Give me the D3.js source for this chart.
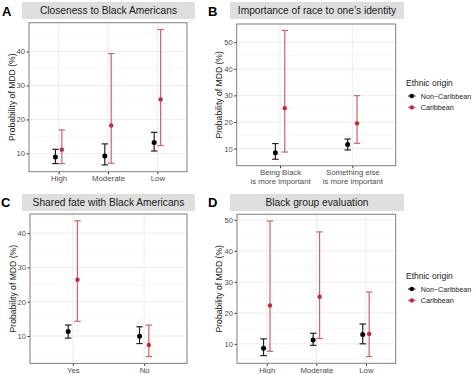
<!DOCTYPE html>
<html>
<head>
<meta charset="utf-8">
<script src="https://cdn.jsdelivr.net/npm/d3@7"></script>
<style>
  body { margin: 0; background: #fff; }
  svg { display: block; font-family: "Liberation Sans", Arial, sans-serif; }
</style>
</head>
<body>
<svg id="chart" width="474" height="374"></svg>
<script>
// values (probability of MDD, %)
const groups = ["Non\u2212Caribbean", "Caribbean"];

// A - closeness to Black Americans
const catsA = ["High", "Moderate", "Low"];
const nonA = [8.9, 9.2, 13.2], nonA_lo = [7.0, 6.6, 10.7], nonA_hi = [11.2, 12.8, 16.2];
const carA = [11.1, 18.2, 25.9], carA_lo = [7.0, 7.1, 12.3], carA_hi = [16.9, 39.4, 46.5];
const ticksA = [10, 20, 30, 40];

// B - importance of race
const catsB = [["Being Black", "is more important"], ["Something else", "is more important"]];
const nonB = [8.4, 11.5], nonB_lo = [6.0, 9.5], nonB_hi = [11.9, 13.6];
const carB = [25.2, 19.5], carB_lo = [8.7, 12.0], carB_hi = [54.4, 29.9];
const ticksB = [10, 20, 30, 40, 50];

// C - shared fate
const catsC = ["Yes", "No"];
const nonC = [11.3, 9.9], nonC_lo = [9.4, 7.8], nonC_hi = [13.2, 12.7];
const carC = [26.4, 7.4], carC_lo = [14.3, 4.0], carC_hi = [43.6, 13.2];
const ticksC = [10, 20, 30, 40];

// D - black group evaluation
const catsD = ["High", "Moderate", "Low"];
const nonD = [8.6, 11.2, 13.0], nonD_lo = [6.2, 9.5, 10.0], nonD_hi = [11.6, 13.4, 16.4];
const carD = [22.4, 25.2, 13.2], carD_lo = [7.6, 11.7, 5.9], carD_hi = [49.6, 46.1, 26.7];
const ticksD = [10, 20, 30, 40, 50];

const colors = { "Non\u2212Caribbean": "#000000", "Caribbean": "#c8243a" };
const barColors = { "Non\u2212Caribbean": "#222222", "Caribbean": "#d4606a" };

const toRows = (cats, est, lo, hi, grp) =>
  cats.map((c, i) => ({ key: i, grp: grp, est: est[i], lo: lo[i], hi: hi[i] }));

const panels = [
  { letter: "A", title: "Closeness to Black Americans", cats: catsA, ticks: ticksA,
    rows: toRows(catsA, nonA, nonA_lo, nonA_hi, groups[0]).concat(toRows(catsA, carA, carA_lo, carA_hi, groups[1])),
    box: [29, 22.7, 187, 171.7], strip: [22, 2, 195, 19], lx: 2, ly: 16, ytx: 12.3, legend: null },
  { letter: "B", title: "Importance of race to one\u2019s identity", cats: catsB, ticks: ticksB,
    rows: toRows(catsB, nonB, nonB_lo, nonB_hi, groups[0]).concat(toRows(catsB, carB, carB_lo, carB_hi, groups[1])),
    box: [236.7, 24, 395.7, 165.7], strip: [230, 2, 404, 19], lx: 208, ly: 16, ytx: 218.5, legend: 86 },
  { letter: "C", title: "Shared fate with Black Americans", cats: catsC, ticks: ticksC,
    rows: toRows(catsC, nonC, nonC_lo, nonC_hi, groups[0]).concat(toRows(catsC, carC, carC_lo, carC_hi, groups[1])),
    box: [30, 214, 187, 363.4], strip: [22, 194, 195, 211], lx: 1, ly: 207, ytx: 12.5, legend: null },
  { letter: "D", title: "Black group evaluation", cats: catsD, ticks: ticksD,
    rows: toRows(catsD, nonD, nonD_lo, nonD_hi, groups[0]).concat(toRows(catsD, carD, carD_lo, carD_hi, groups[1])),
    box: [237, 214.3, 395.7, 363.3], strip: [230, 194, 404, 211], lx: 208, ly: 207, ytx: 219, legend: 279 }
];

const svg = d3.select("#chart");

const drawPanel = (p) => {
  const [x0, y0, x1, y1] = p.box;

  // ggplot style 5% expansion of the data range
  const lo = d3.min(p.rows, d => d.lo), hi = d3.max(p.rows, d => d.hi);
  const pad = (hi - lo) * 0.05;
  const y = d3.scaleLinear().domain([lo - pad, hi + pad]).range([y1, y0]);
  const x = d3.scalePoint().domain(d3.range(p.cats.length)).range([x0, x1]).padding(0.6);
  const dodge = d3.scaleOrdinal().domain(groups).range([-0.065, 0.065]);
  const xd = d => x(d.key) + dodge(d.grp) * x.step();

  const g = svg.append("g");

  // strip + letter
  g.append("rect")
    .attr("x", p.strip[0]).attr("y", p.strip[1])
    .attr("width", p.strip[2] - p.strip[0]).attr("height", p.strip[3] - p.strip[1])
    .attr("fill", "#dedede");
  g.append("text")
    .attr("x", (p.strip[0] + p.strip[2]) / 2).attr("y", p.strip[3] - 4.6)
    .attr("text-anchor", "middle").attr("font-size", 10.2).attr("fill", "#1a1a1a")
    .text(p.title);
  g.append("text")
    .attr("x", p.lx).attr("y", p.ly)
    .attr("font-size", 13).attr("font-weight", "bold").attr("fill", "#000")
    .text(p.letter);

  // grid
  const minor = p.ticks.map(t => t - 5).concat([p.ticks[p.ticks.length - 1] + 5])
    .filter(v => v > y.domain()[0] && v < y.domain()[1]);
  g.selectAll(".minor").data(minor).join("line")
    .attr("x1", x0).attr("x2", x1).attr("y1", d => y(d)).attr("y2", d => y(d))
    .attr("stroke", "#f2f2f2").attr("stroke-width", 0.5);
  g.selectAll(".major").data(p.ticks).join("line")
    .attr("x1", x0).attr("x2", x1).attr("y1", d => y(d)).attr("y2", d => y(d))
    .attr("stroke", "#e8e8e8").attr("stroke-width", 0.8);
  g.selectAll(".vgrid").data(x.domain()).join("line")
    .attr("x1", d => x(d)).attr("x2", d => x(d)).attr("y1", y0).attr("y2", y1)
    .attr("stroke", "#e8e8e8").attr("stroke-width", 0.8);

  // axes
  const ya = g.append("g")
    .attr("transform", "translate(" + x0 + ",0)")
    .call(d3.axisLeft(y).tickValues(p.ticks).tickSize(2.5).tickPadding(1.5));
  ya.select(".domain").remove();
  ya.selectAll("line").attr("stroke", "#333");
  ya.selectAll("text").attr("font-size", 7.6).attr("fill", "#4d4d4d").attr("font-family", null);

  const xa = g.append("g")
    .attr("transform", "translate(0," + y1 + ")")
    .call(d3.axisBottom(x).tickSize(2.5).tickPadding(2).tickFormat(() => ""));
  xa.select(".domain").remove();
  xa.selectAll("line").attr("stroke", "#333");
  xa.selectAll(".tick text").each(function (d) {
    const lab = p.cats[d];
    const lines = Array.isArray(lab) ? lab : [lab];
    d3.select(this).attr("font-size", 7.8).attr("fill", "#4d4d4d").attr("font-family", null)
      .attr("dy", null).attr("y", 9.8)
      .selectAll("tspan").data(lines).join("tspan")
      .attr("x", 0).attr("dy", (t, i) => i === 0 ? 0 : 8.2).text(t => t);
  });

  // y title
  g.append("text")
    .attr("transform", "translate(" + p.ytx + "," + (y0 + y1) / 2 + ") rotate(-90)")
    .attr("text-anchor", "middle").attr("dy", "0.35em")
    .attr("font-size", 8.6).attr("fill", "#1a1a1a")
    .text("Probability of MDD (%)");

  // error bars
  const cap = 3.2;
  const bars = g.selectAll(".bar").data(p.rows).join("g")
    .attr("stroke", d => barColors[d.grp]).attr("stroke-width", 1.2);
  bars.append("line").attr("x1", xd).attr("x2", xd).attr("y1", d => y(d.lo)).attr("y2", d => y(d.hi));
  bars.append("line").attr("x1", d => xd(d) - cap).attr("x2", d => xd(d) + cap)
    .attr("y1", d => y(d.hi)).attr("y2", d => y(d.hi));
  bars.append("line").attr("x1", d => xd(d) - cap).attr("x2", d => xd(d) + cap)
    .attr("y1", d => y(d.lo)).attr("y2", d => y(d.lo));

  g.selectAll(".pt").data(p.rows).join("circle")
    .attr("cx", xd).attr("cy", d => y(d.est))
    .attr("r", d => d.grp === groups[0] ? 2.5 : 2.2)
    .attr("fill", d => colors[d.grp]);

  // panel border
  g.append("rect")
    .attr("x", x0).attr("y", y0).attr("width", x1 - x0).attr("height", y1 - y0)
    .attr("fill", "none").attr("stroke", "#7f7f7f").attr("stroke-width", 1);

  // legend
  if (p.legend !== null) {
    const lg = g.append("g").attr("transform", "translate(406," + p.legend + ")");
    lg.append("text").attr("font-size", 8.5).attr("fill", "#1a1a1a").text("Ethnic origin");
    const item = lg.selectAll(".item").data(groups).join("g")
      .attr("transform", (d, i) => "translate(0," + (10 + i * 11.4) + ")");
    item.append("line").attr("x1", 2).attr("x2", 9.5).attr("y1", 0).attr("y2", 0)
      .attr("stroke", d => barColors[d]).attr("stroke-width", 1.2);
    item.append("circle").attr("cx", 5.8).attr("cy", 0).attr("r", 2.2).attr("fill", d => colors[d]);
    item.append("text").attr("x", 14.7).attr("dy", "0.35em")
      .attr("font-size", 7.2).attr("fill", "#1a1a1a").text(d => d);
  }
};

panels.forEach(drawPanel);
</script>
</body>
</html>
